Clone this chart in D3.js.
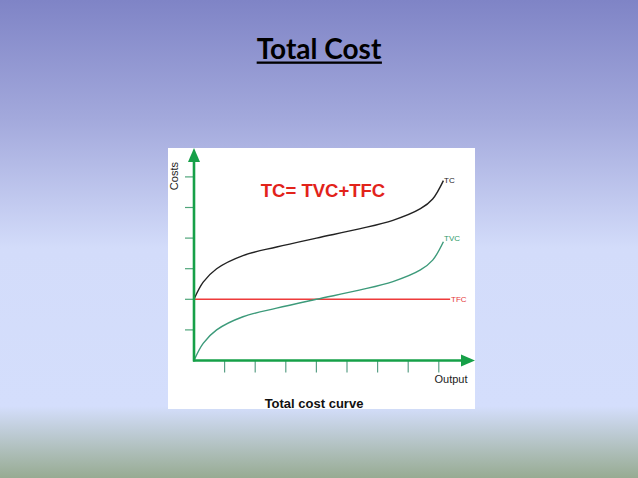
<!DOCTYPE html>
<html>
<head>
<meta charset="utf-8">
<script src="https://cdn.jsdelivr.net/npm/d3@7"></script>
<style>
  html, body { margin: 0; padding: 0; }
  body { width: 638px; height: 478px; overflow: hidden; }
</style>
</head>
<body>
<div id="chart"></div>
<script>
// data (units = tick spacing)
var output = [0, 0.3, 0.74, 1.6, 2.7, 4.0, 5.4, 6.5, 7.4, 7.8, 8.15];
var tvc    = [0, 0.56, 1.0, 1.43, 1.71, 2.0, 2.3, 2.58, 2.96, 3.28, 3.88];
var tc     = [2, 2.56, 3.0, 3.43, 3.71, 4.0, 4.3, 4.58, 4.96, 5.28, 5.88];
var tfc = 2;
var tfcEnd = 8.37;
var xTicks = [1, 2, 3, 4, 5, 6, 7, 8];
var yTicks = [1, 2, 3, 4, 5, 6];

var W = 638, H = 478;
var svg = d3.select("#chart").append("svg")
    .attr("width", W).attr("height", H);

// background gradient
var defs = svg.append("defs");
var grad = defs.append("linearGradient").attr("id", "bg")
    .attr("x1", 0).attr("y1", 0).attr("x2", 0).attr("y2", 1);
[[0, "#7f84c6"], [0.25, "#a3a9dc"], [0.52, "#d3dcfa"], [0.85, "#d4defc"], [1, "#97ab92"]]
  .forEach(function(s) { grad.append("stop").attr("offset", s[0]).attr("stop-color", s[1]); });
svg.append("rect").attr("width", W).attr("height", H).attr("fill", "url(#bg)");

// title
var title = svg.append("text")
    .attr("x", 319).attr("y", 59)
    .attr("text-anchor", "middle")
    .style("font-family", "Lato, 'Open Sans', sans-serif")
    .style("font-weight", "bold")
    .style("font-size", "28px")
    .attr("fill", "#000")
    .text("Total Cost");
var tb = title.node().getBBox();
svg.append("rect").attr("x", tb.x).attr("y", 61.5).attr("width", tb.width).attr("height", 2.3).attr("fill", "#000");

// white picture panel
svg.append("rect").attr("x", 168).attr("y", 148).attr("width", 307).attr("height", 261).attr("fill", "#fff");

var x0 = 194, y0 = 360.5, unit = 30.6;
var x = d3.scaleLinear().domain([0, 1]).range([x0, x0 + unit]);
var y = d3.scaleLinear().domain([0, 1]).range([y0, y0 - unit]);

var g = svg.append("g");

// ticks
g.selectAll(".yt").data(yTicks).enter().append("line")
    .attr("x1", x0 - 9).attr("x2", x0)
    .attr("y1", function(d) { return y(d); }).attr("y2", function(d) { return y(d); })
    .attr("stroke", "#4fa57a").attr("stroke-width", 1.2);
g.selectAll(".xt").data(xTicks).enter().append("line")
    .attr("x1", function(d) { return x(d); }).attr("x2", function(d) { return x(d); })
    .attr("y1", y0).attr("y2", y0 + 12)
    .attr("stroke", "#5a9f86").attr("stroke-width", 1.2);

// TFC
g.append("line")
    .attr("x1", x(0)).attr("x2", x(tfcEnd))
    .attr("y1", y(tfc)).attr("y2", y(tfc))
    .attr("stroke", "#ee3b3b").attr("stroke-width", 1.5);

var line = d3.line().curve(d3.curveCatmullRom.alpha(0.5))
    .x(function(d) { return x(d[0]); }).y(function(d) { return y(d[1]); });

g.append("path").datum(d3.zip(output, tvc))
    .attr("d", line).attr("fill", "none")
    .attr("stroke", "#3c9a7a").attr("stroke-width", 1.4);
g.append("path").datum(d3.zip(output, tc))
    .attr("d", line).attr("fill", "none")
    .attr("stroke", "#222").attr("stroke-width", 1.4);

// axes with arrows
var green = "#16a048";
g.append("line").attr("x1", x0).attr("x2", x0).attr("y1", y0 + 1).attr("y2", 158)
    .attr("stroke", green).attr("stroke-width", 2.6);
g.append("line").attr("x1", x0 - 1).attr("x2", 465).attr("y1", y0).attr("y2", y0)
    .attr("stroke", green).attr("stroke-width", 2.6);
g.append("path").attr("d", "M" + x0 + ",148 L" + (x0 - 6) + ",162 L" + (x0 + 6) + ",162 Z").attr("fill", green);
g.append("path").attr("d", "M475," + y0 + " L461," + (y0 - 6) + " L461," + (y0 + 6) + " Z").attr("fill", green);

// labels
var font = "'Liberation Sans', Arial, sans-serif";
function label(tx, ty, s, size, color, opts) {
  opts = opts || {};
  return svg.append("text").attr("x", tx).attr("y", ty)
    .attr("text-anchor", opts.anchor || "start")
    .style("font-family", font).style("font-size", size + "px")
    .style("font-weight", opts.bold ? "bold" : "normal")
    .attr("fill", color).text(s);
}
label(444, 183, "TC", 8, "#222");
label(444, 241, "TVC", 8, "#2e9a6a");
label(451, 302, "TFC", 8, "#e53a3a");
label(451, 383, "Output", 11, "#222", { anchor: "middle" });
label(314, 408, "Total cost curve", 13, "#111", { anchor: "middle", bold: true });
label(323, 197, "TC= TVC+TFC", 18.5, "#e2231a", { anchor: "middle", bold: true });
svg.append("text")
    .attr("transform", "translate(178,162) rotate(-90)")
    .attr("text-anchor", "end")
    .style("font-family", font).style("font-size", "11px")
    .attr("fill", "#222").text("Costs");
</script>
</body>
</html>
